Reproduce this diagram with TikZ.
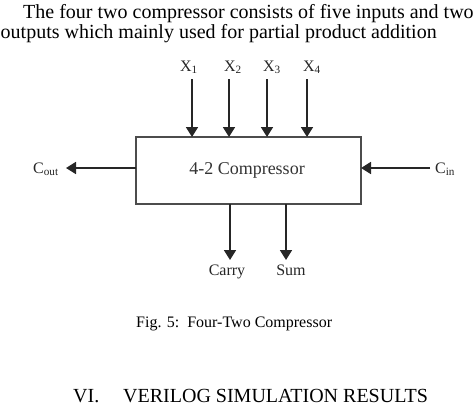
\documentclass[tikz,border=0pt]{standalone}
\usepackage{fontspec}
\setmainfont{Liberation Serif}
\usetikzlibrary{arrows.meta}
\begin{document}
\begin{tikzpicture}[x=1pt,y=-1pt,
  body/.style={font=\fontsize{20}{22}\selectfont, anchor=base west, inner sep=0pt},
  lbl/.style={font=\fontsize{16}{18}\selectfont, inner sep=0pt, text=black!85},
  sig/.style={line width=1.8pt, draw=black!85, -{Triangle[length=10pt,width=12pt]}},
  blk/.style={draw=black!70, line width=1.3pt, minimum width=225pt, minimum height=67pt, inner sep=0pt}
]
\useasboundingbox (0,0) rectangle (474,407);
\node[body] (l1) at (23,18) {The four two compressor consists of five inputs and two};
\node[body] (l2) at (0.5,38) {outputs which mainly used for partial product addition};

\node[blk] (box) at (248.5,170.5) {};
\node[font=\fontsize{18}{20}\selectfont, text=black!80, anchor=base, inner sep=0pt] (title) at (247,174) {4-2 Compressor};

% inputs
\foreach \i/\x/\lx in {1/192/189,2/229/233,3/267/272,4/307/312}{
  \node[lbl, anchor=base] (x\i) at (\lx,71) {X\textsubscript{\i}};
  \coordinate (xs\i) at (\x,79);
  \coordinate (xe\i) at (\x,137);
  \draw[sig] (xs\i) -- (xe\i);
}
% Cout / Cin
\node[lbl, anchor=base west] (cout) at (33,173) {C\textsubscript{out}};
\coordinate (co1) at (136,168);
\coordinate (co2) at (66,168);
\draw[sig] (co1) -- (co2);
\node[lbl, anchor=base west] (cin) at (435,173) {C\textsubscript{in}};
\coordinate (ci1) at (430,168);
\coordinate (ci2) at (361,168);
\draw[sig] (ci1) -- (ci2);
% outputs
\coordinate (c1) at (230,204);
\coordinate (c2) at (230,260);
\coordinate (s1) at (286,204);
\coordinate (s2) at (286,260);
\draw[sig] (c1) -- (c2);
\draw[sig] (s1) -- (s2);
\node[lbl, anchor=base] (carry) at (227,275) {Carry};
\node[lbl, anchor=base] (sum) at (291,275) {Sum};

\node[font=\fontsize{16}{18}\selectfont, anchor=base west, inner sep=0pt] (cap) at (136,327) {Fig. 5:\ \ Four-Two Compressor};
\node[body] (vi) at (73,402) {VI.};
\node[body] (sec) at (123,402) {VERILOG SIMULATION RESULTS};
\end{tikzpicture}
\end{document}
